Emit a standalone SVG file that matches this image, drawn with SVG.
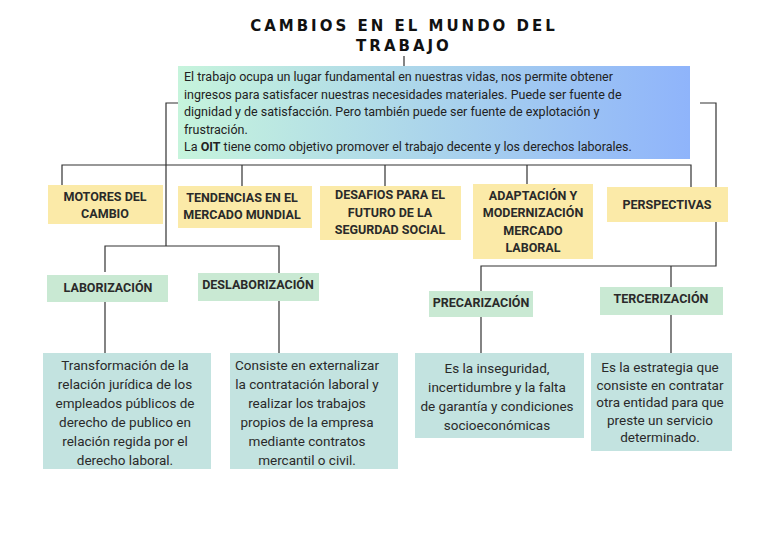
<svg xmlns="http://www.w3.org/2000/svg" width="768" height="543" viewBox="0 0 768 543">
<style>
.t{font-family:Roboto,"Liberation Sans",sans-serif;fill:#222;}
.h{font-family:Roboto,"Liberation Sans",sans-serif;font-weight:bold;font-size:12.5px;fill:#2a2a2a;text-anchor:middle}
.b{font-family:Roboto,"Liberation Sans",sans-serif;font-size:13.5px;fill:#2a2a2a;text-anchor:middle}
.y{fill:#fbeaa8}.g{fill:#c9e9d3}.c{fill:#c3e3e0}
.ln{stroke:#333;stroke-width:1.2;fill:none}
</style>
<defs><linearGradient id="gr" x1="0" x2="1"><stop offset="0" stop-color="#c6f4dc"/><stop offset="1" stop-color="#8fb4fb"/></linearGradient></defs>
<rect width="768" height="543" fill="#fff"/>
<g id="title"><text x="404" y="31" font-family="DejaVu Sans" font-weight="bold" font-size="15" letter-spacing="3" text-anchor="middle" fill="#111">CAMBIOS EN EL MUNDO DEL</text><text x="404" y="51" font-family="DejaVu Sans" font-weight="bold" font-size="15" letter-spacing="3" text-anchor="middle" fill="#111">TRABAJO</text></g>
<g id="connectors" class="ln">
<path d="M404 56V66"/>
<path d="M62 187V165H691V189M242 165V187M385 165V187M527 165V185"/>
<path d="M183 103H166V246M105 272V246H279V273"/>
<path d="M700 103H716V266H481V291M671 266V287"/>
<path d="M105 302V353M279 301V353M481 317V353M671 315V353"/>
</g>
<g id="main"><rect x="178" y="66" width="512" height="93" fill="url(#gr)"/>
<text class="t" font-size="12.5"><tspan x="184" y="81">El trabajo ocupa un lugar fundamental en nuestras vidas, nos permite obtener</tspan><tspan x="184" y="99">ingresos para satisfacer nuestras necesidades materiales. Puede ser fuente de</tspan><tspan x="184" y="116">dignidad y de satisfacción. Pero también puede ser fuente de explotación y</tspan><tspan x="184" y="134">frustración.</tspan><tspan x="184" y="151">La <tspan font-weight="bold">OIT</tspan> tiene como objetivo promover el trabajo decente y los derechos laborales.</tspan></text></g>
<g id="motores"><rect class="y" x="48" y="185" width="115" height="39"/><text class="h"><tspan x="105" y="201">MOTORES DEL</tspan><tspan x="105" y="218">CAMBIO</tspan></text></g>
<g id="tendencias"><rect class="y" x="178" y="186" width="134" height="42"/><text class="h"><tspan x="242" y="202">TENDENCIAS EN EL</tspan><tspan x="242" y="219">MERCADO MUNDIAL</tspan></text></g>
<g id="desafios"><rect class="y" x="320" y="186" width="141" height="54"/><text class="h"><tspan x="390" y="199">DESAFIOS PARA EL</tspan><tspan x="390" y="217">FUTURO DE LA</tspan><tspan x="390" y="234">SEGURDAD SOCIAL</tspan></text></g>
<g id="adaptacion"><rect class="y" x="473" y="184" width="120" height="75"/><text class="h"><tspan x="533" y="200">ADAPTACIÓN Y</tspan><tspan x="533" y="217">MODERNIZACIÓN</tspan><tspan x="533" y="235">MERCADO</tspan><tspan x="533" y="252">LABORAL</tspan></text></g>
<g id="perspectivas"><rect class="y" x="607" y="187" width="121" height="35"/><text class="h" x="667" y="209">PERSPECTIVAS</text></g>
<g id="laborizacion"><rect class="g" x="47" y="275" width="121" height="27"/><text class="h" x="108" y="292">LABORIZACIÓN</text></g>
<g id="deslaborizacion"><rect class="g" x="198" y="273" width="121" height="28"/><text class="h" x="258" y="289">DESLABORIZACIÓN</text></g>
<g id="precarizacion"><rect class="g" x="429" y="291" width="104" height="26"/><text class="h" x="481" y="307">PRECARIZACIÓN</text></g>
<g id="tercerizacion"><rect class="g" x="600" y="287" width="123" height="28"/><text class="h" x="661" y="303">TERCERIZACIÓN</text></g>
<g id="def-laborizacion"><rect class="c" x="43" y="353" width="168" height="116"/><text class="b"><tspan x="125" y="370">Transformación de la</tspan><tspan x="125" y="389">relación jurídica de los</tspan><tspan x="125" y="408">empleados públicos de</tspan><tspan x="125" y="427">derecho de publico en</tspan><tspan x="125" y="446">relación regida por el</tspan><tspan x="125" y="465">derecho laboral.</tspan></text></g>
<g id="def-deslaborizacion"><rect class="c" x="230" y="353" width="168" height="116"/><text class="b"><tspan x="307" y="370">Consiste en externalizar</tspan><tspan x="307" y="389">la contratación laboral y</tspan><tspan x="307" y="408">realizar los trabajos</tspan><tspan x="307" y="427">propios de la empresa</tspan><tspan x="307" y="446">mediante contratos</tspan><tspan x="307" y="465">mercantil o civil.</tspan></text></g>
<g id="def-precarizacion"><rect class="c" x="415" y="353" width="169" height="85"/><text class="b"><tspan x="497" y="373">Es la inseguridad,</tspan><tspan x="497" y="392">incertidumbre y la falta</tspan><tspan x="497" y="411">de garantía y condiciones</tspan><tspan x="497" y="430">socioeconómicas</tspan></text></g>
<g id="def-tercerizacion"><rect class="c" x="591" y="353" width="141" height="98" /><text class="b" font-size="12.5"><tspan x="660" y="372">Es la estrategia que</tspan><tspan x="660" y="390">consiste en contratar</tspan><tspan x="660" y="407">otra entidad para que</tspan><tspan x="660" y="425">preste un servicio</tspan><tspan x="660" y="442">determinado.</tspan></text></g>
</svg>
